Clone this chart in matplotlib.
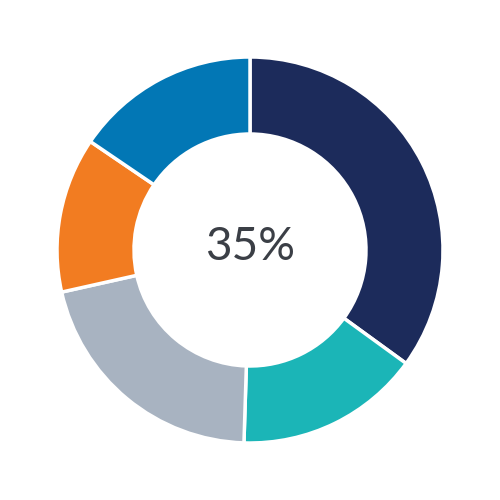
import matplotlib
matplotlib.use('Agg')
import matplotlib.pyplot as plt

# slice shares, clockwise from 12 o'clock
values = [35, 15.5, 21, 13, 15.5]
colors = ['#1c2b5b', '#1bb5b7', '#a8b3c1', '#f27c21', '#0277b5']
center_label = '35%'

fig = plt.figure(figsize=(5, 5), dpi=100)
ax = fig.add_axes([0, 0, 1, 1])

ax.pie(values, colors=colors, startangle=90, counterclock=False,
       radius=193/250,
       wedgeprops=dict(width=(193-116)/250, edgecolor='white', linewidth=2.5))

ax.text(0, 0.012, center_label, ha='center', va='center', fontsize=33,
        color='#3b3f46', family=['Lato', 'DejaVu Sans'], fontweight='normal')

ax.set_xlim(-1, 1)
ax.set_ylim(-1, 1)
ax.set_aspect('equal')
ax.axis('off')

fig.savefig('out.png', dpi=100, facecolor='white')
